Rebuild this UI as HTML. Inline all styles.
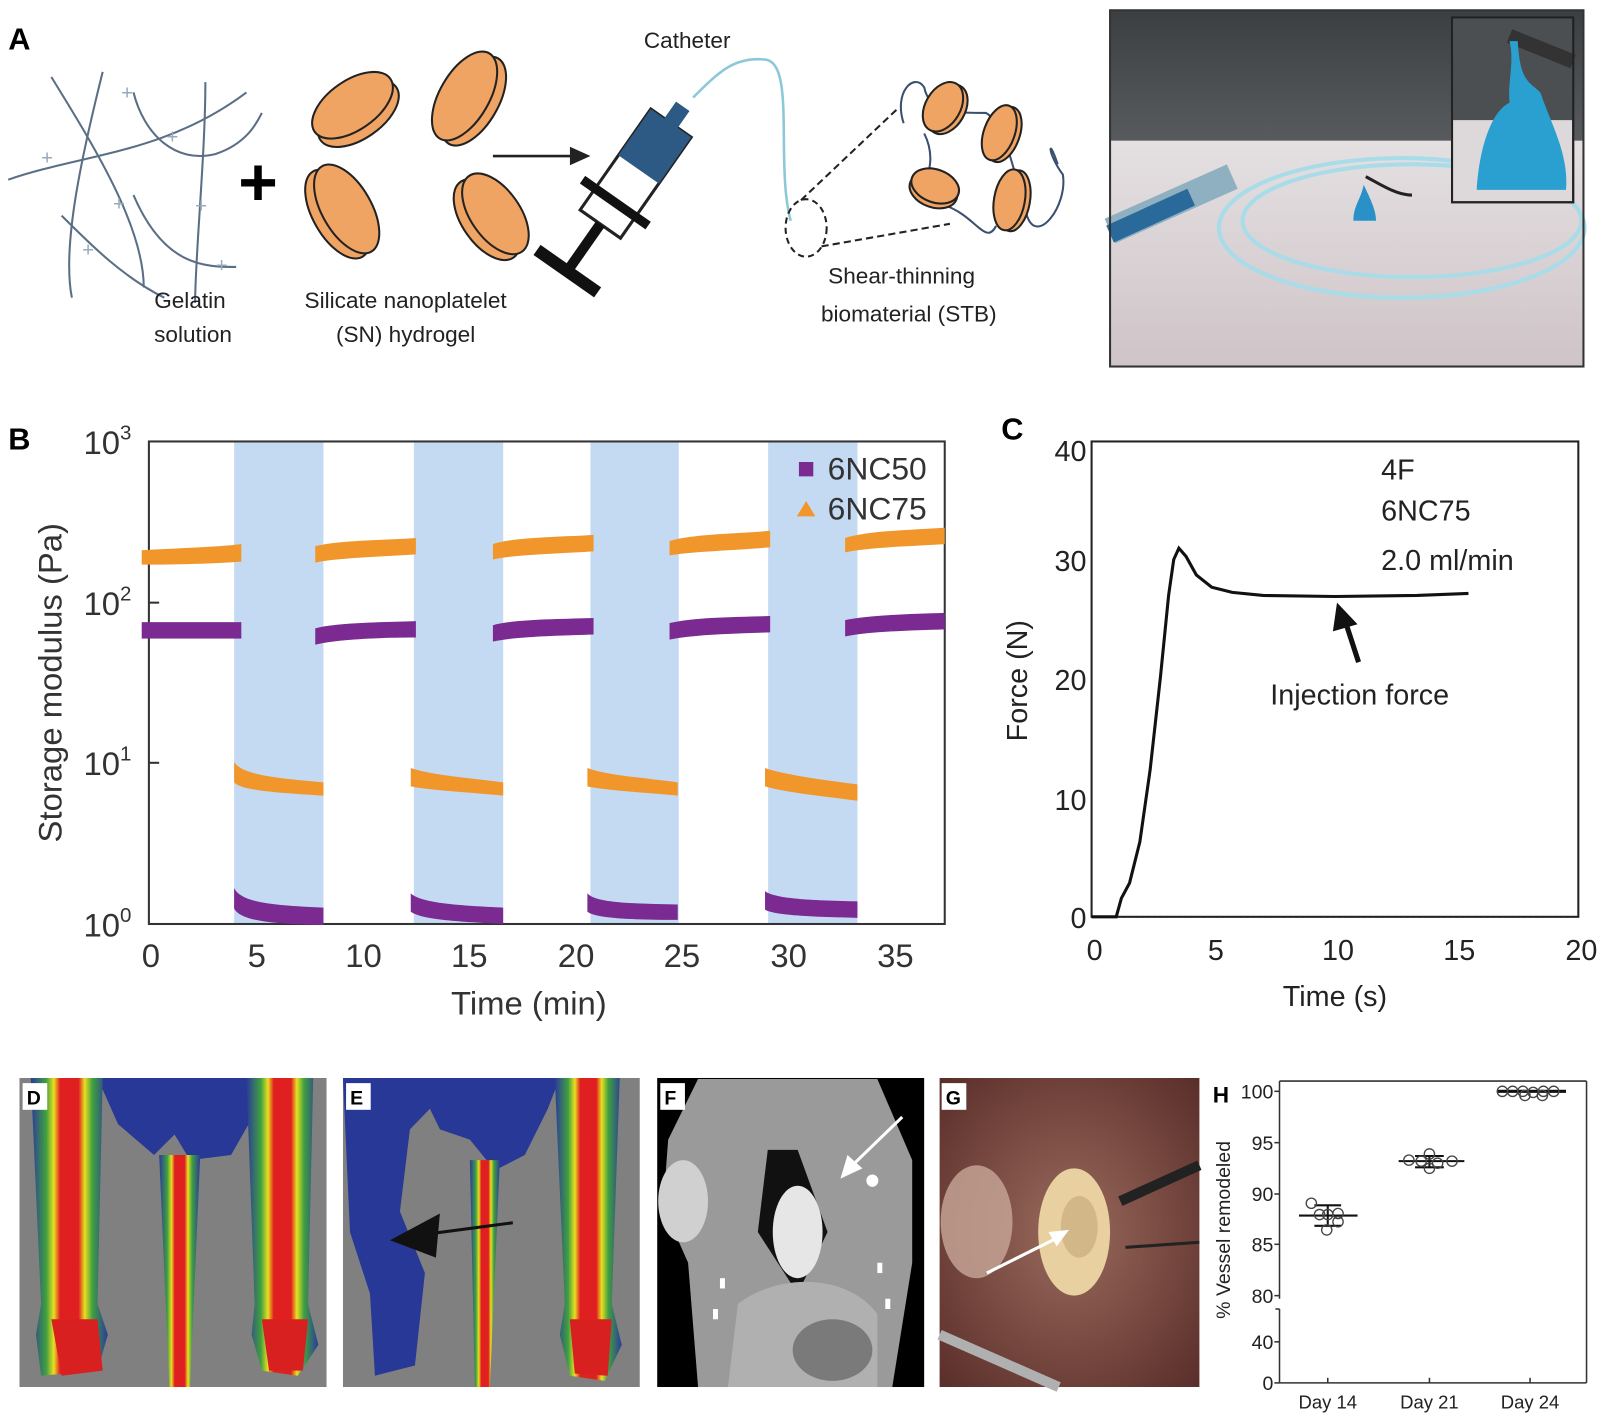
<!DOCTYPE html>
<html><head><meta charset="utf-8"><style>
html,body{margin:0;padding:0;background:#fff}
svg{display:block;font-family:"Liberation Sans",sans-serif}
</style></head><body>
<svg width="1604" height="1425" viewBox="0 0 1562 1388" preserveAspectRatio="none" xmlns="http://www.w3.org/2000/svg">
<defs>
<linearGradient id="wall" x1="0" y1="0" x2="0" y2="1">
<stop offset="0" stop-color="#3c3f41"/><stop offset="1" stop-color="#5a5d5f"/></linearGradient>
<linearGradient id="floor" x1="0" y1="0" x2="0" y2="1">
<stop offset="0" stop-color="#e4e0e2"/><stop offset="1" stop-color="#cfc4c7"/></linearGradient>
<linearGradient id="limb" x1="0" y1="0" x2="1" y2="0">
<stop offset="0" stop-color="#2a3a9a"/><stop offset="0.2" stop-color="#40a040"/><stop offset="0.3" stop-color="#e8e020"/><stop offset="0.38" stop-color="#e02020"/><stop offset="0.62" stop-color="#e02020"/><stop offset="0.7" stop-color="#e8e020"/><stop offset="0.8" stop-color="#40a040"/><stop offset="1" stop-color="#2a3a9a"/></linearGradient>
<radialGradient id="gG" cx="0.5" cy="0.5" r="0.7"><stop offset="0" stop-color="#9a6a5c"/><stop offset="1" stop-color="#5a2e2a"/></radialGradient>
</defs>

<!-- Panel A -->
<text x="8" y="48" font-size="30" font-weight="bold">A</text>
<g fill="none" stroke="#5a6e85" stroke-width="2">
<path d="M50 75 C90 140 140 220 140 280"/>
<path d="M100 70 C80 150 60 240 70 290"/>
<path d="M8 175 C80 150 160 150 240 90"/>
<path d="M130 90 C140 130 170 160 210 150 C240 140 250 120 255 110"/>
<path d="M200 80 C200 150 190 250 190 295"/>
<path d="M130 190 C160 260 200 260 230 260"/>
<path d="M60 210 C90 240 120 270 160 290"/>
</g>
<g font-size="20" fill="#9ab"><text x="40" y="160">+</text><text x="118" y="97">+</text><text x="162" y="140">+</text><text x="110" y="205">+</text><text x="80" y="250">+</text><text x="190" y="207">+</text><text x="210" y="265">+</text></g>
<text x="232" y="200" font-size="66" font-weight="bold">+</text>
<g fill="#f0a464" stroke="#222" stroke-width="2">
<g transform="rotate(-35 345 105)"><ellipse cx="345" cy="112" rx="45" ry="24"/><ellipse cx="345" cy="102" rx="45" ry="24"/></g>
<g transform="rotate(-60 455 95)"><ellipse cx="455" cy="102" rx="48" ry="24"/><ellipse cx="455" cy="92" rx="48" ry="24"/></g>
<g transform="rotate(60 335 205)"><ellipse cx="335" cy="212" rx="48" ry="24"/><ellipse cx="335" cy="202" rx="48" ry="24"/></g>
<g transform="rotate(55 480 210)"><ellipse cx="480" cy="217" rx="45" ry="24"/><ellipse cx="480" cy="207" rx="45" ry="24"/></g>
</g>
<line x1="480" y1="152" x2="558" y2="152" stroke="#222" stroke-width="2.5"/><polygon points="575,152 555,143 555,161" fill="#222"/>
<g transform="rotate(35 610 175)">
<rect x="590" y="105" width="48" height="120" fill="#fff" stroke="#222" stroke-width="3"/>
<rect x="590" y="105" width="48" height="55" fill="#2d5a85"/>
<rect x="606" y="85" width="16" height="22" fill="#2d5a85"/>
<rect x="609" y="225" width="10" height="55" fill="#111"/>
<rect x="578" y="275" width="72" height="12" fill="#111"/>
<rect x="575" y="195" width="78" height="9" fill="#111"/>
</g>
<path d="M675 95 C700 70 715 55 745 58 C775 60 755 160 770 215" fill="none" stroke="#8cc8d8" stroke-width="2.5"/>
<ellipse cx="785" cy="222" rx="20" ry="28" fill="none" stroke="#222" stroke-width="2" stroke-dasharray="6,4"/>
<line x1="780" y1="195" x2="875" y2="105" stroke="#222" stroke-width="2" stroke-dasharray="7,4"/>
<line x1="800" y1="240" x2="925" y2="218" stroke="#222" stroke-width="2" stroke-dasharray="7,4"/>
<text x="627" y="47" font-size="22" fill="#222">Catheter</text>
<g fill="none" stroke="#3a5070" stroke-width="2"><path d="M880 120 C870 90 890 70 900 85 C905 110 930 110 960 110 C980 120 990 180 1000 210 C1010 240 1040 200 1035 170 C1020 150 1020 130 1030 160"/><path d="M900 130 C920 170 880 190 920 200 C950 210 960 240 970 220"/></g>
<g fill="#f0a464" stroke="#222" stroke-width="2">
<g transform="rotate(-60 920 105)"><ellipse cx="920" cy="108" rx="26" ry="17"/><ellipse cx="920" cy="103" rx="26" ry="17"/></g>
<g transform="rotate(-70 975 130)"><ellipse cx="975" cy="133" rx="28" ry="15"/><ellipse cx="975" cy="128" rx="28" ry="15"/></g>
<g transform="rotate(20 910 183)"><ellipse cx="910" cy="186" rx="24" ry="16"/><ellipse cx="910" cy="181" rx="24" ry="16"/></g>
<g transform="rotate(-80 985 195)"><ellipse cx="985" cy="198" rx="30" ry="15"/><ellipse cx="985" cy="193" rx="30" ry="15"/></g>
</g>
<g font-size="22" fill="#222" text-anchor="middle">
<text x="185" y="300">Gelatin</text><text x="188" y="333">solution</text>
<text x="395" y="300">Silicate nanoplatelet</text><text x="395" y="333">(SN) hydrogel</text>
<text x="878" y="276">Shear-thinning</text><text x="885" y="313">biomaterial (STB)</text>
</g>
<!-- photo -->
<rect x="1081" y="10" width="461" height="137" fill="url(#wall)"/>
<rect x="1081" y="137" width="461" height="220" fill="url(#floor)"/>
<ellipse cx="1365" cy="222" rx="178" ry="68" fill="none" stroke="#a8dce8" stroke-width="4"/>
<ellipse cx="1375" cy="215" rx="165" ry="55" fill="none" stroke="#a8dce8" stroke-width="4"/>
<line x1="1081" y1="225" x2="1200" y2="172" stroke="#8fb0c0" stroke-width="26"/>
<line x1="1081" y1="228" x2="1160" y2="192" stroke="#2a6a9a" stroke-width="18"/>
<path d="M1330 172 C1345 180 1360 190 1375 190" fill="none" stroke="#222" stroke-width="3"/>
<path d="M1318 215 C1318 200 1325 195 1328 180 C1335 195 1340 205 1340 215 Z" fill="#2a90c8"/>
<rect x="1081" y="10" width="461" height="347" fill="none" stroke="#333" stroke-width="2"/>
<rect x="1414" y="17" width="118" height="180" fill="#ddd9db" stroke="#222" stroke-width="2"/>
<rect x="1414" y="17" width="118" height="100" fill="#4c4f51"/>
<line x1="1470" y1="35" x2="1532" y2="60" stroke="#333" stroke-width="14"/>
<path d="M1470 40 C1475 60 1468 80 1470 100 C1450 110 1440 150 1438 185 L1525 185 C1528 150 1510 120 1500 90 C1490 80 1480 80 1478 40 Z" fill="#2aa0d0"/>
<rect x="1414" y="17" width="118" height="180" fill="none" stroke="#222" stroke-width="2"/>

<!-- Panel B -->
<text x="8" y="438" font-size="30" font-weight="bold">B</text>
<g fill="#c4daf2">
<rect x="228" y="431" width="87" height="469"/><rect x="403" y="431" width="87" height="469"/>
<rect x="575" y="431" width="86" height="469"/><rect x="748" y="431" width="87" height="469"/>
</g>
<rect x="145" y="430" width="775" height="470" fill="none" stroke="#333" stroke-width="2"/>
<g stroke="#333" stroke-width="2">
<line x1="145" y1="587" x2="155" y2="587"/><line x1="145" y1="743" x2="155" y2="743"/>
</g>
<g fill="#f0962a">
<path d="M138,536 C170,534 210,533 235,530 L235,547 C210,549 170,550 138,550 Z"/>
<path d="M307,532 C330,526 380,526 405,524 L405,540 C380,542 330,543 307,548 Z"/>
<path d="M480,530 C500,523 550,523 578,521 L578,537 C550,539 500,540 480,545 Z"/>
<path d="M652,527 C675,520 720,520 750,517 L750,533 C720,536 675,537 652,541 Z"/>
<path d="M823,524 C845,517 890,516 920,514 L920,530 C890,532 845,533 823,538 Z"/>
<path d="M228,742 C235,755 270,758 315,762 L315,775 C270,772 235,770 228,762 Z"/>
<path d="M400,748 C420,755 460,758 490,762 L490,775 C460,772 420,770 400,766 Z"/>
<path d="M572,748 C590,755 630,758 660,762 L660,775 C630,772 590,770 572,766 Z"/>
<path d="M745,748 C765,755 805,760 835,764 L835,780 C805,776 765,772 745,766 Z"/>
</g>
<g fill="#7a2a90">
<rect x="138" y="606" width="97" height="16"/>
<path d="M307,612 C330,606 380,606 405,605 L405,621 C380,621 330,622 307,628 Z"/>
<path d="M480,609 C500,603 550,603 578,602 L578,618 C550,619 500,620 480,625 Z"/>
<path d="M652,607 C675,601 720,601 750,600 L750,616 C720,617 675,618 652,623 Z"/>
<path d="M823,604 C845,599 890,598 920,597 L920,613 C890,614 845,615 823,620 Z"/>
<path d="M228,865 C235,880 270,882 315,884 L315,901 C270,900 235,898 228,885 Z"/>
<path d="M400,870 C410,880 450,882 490,884 L490,900 C450,898 410,896 400,888 Z"/>
<path d="M572,870 C580,880 620,880 660,881 L660,896 C620,896 580,895 572,888 Z"/>
<path d="M745,868 C755,876 795,877 835,878 L835,894 C795,893 755,892 745,886 Z"/>
</g>
<rect x="778" y="450" width="14" height="14" fill="#7a2a90"/>
<polygon points="776,503 794,503 785,488" fill="#f0962a"/>
<g font-size="31" fill="#333"><text x="806" y="467">6NC50</text><text x="806" y="506">6NC75</text></g>
<g font-size="32" fill="#333" text-anchor="end">
<text x="128" y="442">10<tspan font-size="20" dy="-14">3</tspan></text>
<text x="128" y="599">10<tspan font-size="20" dy="-14">2</tspan></text>
<text x="128" y="755">10<tspan font-size="20" dy="-14">1</tspan></text>
<text x="128" y="912">10<tspan font-size="20" dy="-14">0</tspan></text>
</g>
<g font-size="32" fill="#333" text-anchor="middle">
<text x="147" y="942">0</text><text x="250" y="942">5</text><text x="354" y="942">10</text><text x="457" y="942">15</text><text x="561" y="942">20</text><text x="664" y="942">25</text><text x="768" y="942">30</text><text x="872" y="942">35</text>
<text x="515" y="988">Time (min)</text>
</g>
<text transform="translate(60 665) rotate(-90)" font-size="32" fill="#333" text-anchor="middle">Storage modulus (Pa)</text>

<!-- Panel C -->
<text x="975" y="428" font-size="30" font-weight="bold">C</text>
<rect x="1063" y="430" width="474" height="463" fill="none" stroke="#222" stroke-width="2"/>
<line x1="1063" y1="893" x2="1537" y2="893" stroke="#222" stroke-width="1.5" stroke-dasharray="3,3"/>
<path d="M1063 893 L1087 893 L1092 875 L1100 860 L1110 820 L1120 750 L1130 660 L1138 580 L1143 545 L1148 534 L1155 542 L1165 560 L1180 572 L1200 577 L1230 580 L1300 581 L1380 580 L1430 578" fill="none" stroke="#111" stroke-width="3"/>
<g font-size="28" fill="#222" text-anchor="end">
<text x="1058" y="449">40</text><text x="1058" y="556">30</text><text x="1058" y="672">20</text><text x="1058" y="789">10</text><text x="1058" y="904">0</text></g>
<g font-size="28" fill="#222" text-anchor="middle">
<text x="1066" y="935">0</text><text x="1184" y="935">5</text><text x="1303" y="935">10</text><text x="1421" y="935">15</text><text x="1540" y="935">20</text>
<text x="1300" y="980">Time (s)</text></g>
<text transform="translate(1000 663) rotate(-90)" font-size="28" fill="#222" text-anchor="middle">Force (N)</text>
<g font-size="28" fill="#222"><text x="1345" y="467">4F</text><text x="1345" y="507">6NC75</text><text x="1345" y="555">2.0 ml/min</text>
<text x="1237" y="686">Injection force</text></g>
<line x1="1323" y1="645" x2="1310" y2="605" stroke="#111" stroke-width="5"/><polygon points="1302,587 1298,615 1322,608" fill="#111"/>

<!-- D -->
<rect x="19" y="1050" width="299" height="301" fill="#808080"/>
<path d="M95 1050 L250 1050 L245 1090 L225 1125 L185 1130 L170 1105 L150 1125 L115 1095 Z" fill="#283896"/>
<path d="M30 1050 L100 1050 L95 1270 L105 1300 L95 1335 L40 1340 L35 1300 L40 1270 Z" fill="url(#limb)"/>
<path d="M155 1125 L195 1125 L185 1351 L165 1351 Z" fill="url(#limb)"/>
<path d="M240 1050 L305 1050 L300 1270 L310 1310 L290 1340 L255 1335 L245 1300 L248 1270 Z" fill="url(#limb)"/>
<path d="M50 1285 L95 1285 L100 1335 L60 1340 Z" fill="#d82020"/><path d="M255 1285 L300 1285 L295 1335 L262 1335 Z" fill="#d82020"/>
<rect x="22" y="1055" width="24" height="26" fill="#fff"/><text x="26" y="1076" font-size="19" font-weight="bold">D</text>
<!-- E -->
<g transform="translate(334 0) scale(0.973 1) translate(-343 0)">
<rect x="343" y="1050" width="297" height="301" fill="#808080"/>
<path d="M343 1050 L560 1050 L548 1080 L525 1125 L495 1140 L470 1110 L440 1100 L430 1080 L410 1100 L400 1180 L425 1240 L415 1330 L375 1340 L370 1260 L350 1200 Z" fill="#283896"/>
<path d="M470 1130 L500 1130 L490 1351 L475 1351 Z" fill="url(#limb)"/>
<path d="M555 1050 L620 1050 L612 1270 L622 1310 L605 1345 L570 1340 L560 1300 L565 1270 Z" fill="url(#limb)"/>
<path d="M570 1285 L612 1285 L608 1340 L575 1338 Z" fill="#d82020"/>
<line x1="513" y1="1191" x2="420" y2="1203" stroke="#111" stroke-width="3"/><polygon points="390,1208 440,1182 436,1225" fill="#111"/>
</g>
<rect x="337" y="1055" width="24" height="26" fill="#fff"/><text x="341" y="1076" font-size="19" font-weight="bold">E</text>
<!-- F -->
<g transform="translate(640 0) scale(0.97 1) translate(-659 0)">
<rect x="659" y="1050" width="268" height="301" fill="#000"/>
<path d="M700 1051 L880 1051 L915 1130 L915 1230 L895 1351 L700 1351 L690 1230 L665 1175 L670 1110 Z" fill="#9a9a9a"/>
<ellipse cx="685" cy="1170" rx="25" ry="40" fill="#d0d0d0"/>
<path d="M770 1120 L800 1120 L830 1200 L800 1260 L760 1200 Z" fill="#111"/>
<ellipse cx="800" cy="1200" rx="25" ry="45" fill="#e6e6e6"/>
<path d="M740 1270 C780 1240 850 1240 880 1280 L880 1351 L730 1351 Z" fill="#b0b0b0"/>
<ellipse cx="835" cy="1315" rx="40" ry="30" fill="#7a7a7a"/>
<g fill="#fff"><circle cx="875" cy="1150" r="6"/><rect x="722" y="1245" width="5" height="10"/><rect x="715" y="1275" width="5" height="10"/><rect x="880" y="1230" width="5" height="10"/><rect x="888" y="1265" width="5" height="10"/></g>
<line x1="905" y1="1088" x2="855" y2="1135" stroke="#fff" stroke-width="3"/><polygon points="843,1148 850,1125 865,1138" fill="#fff"/>
</g>
<rect x="643" y="1055" width="24" height="26" fill="#fff"/><text x="647" y="1076" font-size="19" font-weight="bold">F</text>
<!-- G -->
<g transform="translate(-29 0)">
<rect x="944" y="1050" width="253" height="301" fill="url(#gG)"/>
<ellipse cx="980" cy="1190" rx="35" ry="55" fill="#c8a898" opacity="0.8"/>
<ellipse cx="1075" cy="1200" rx="35" ry="62" fill="#e8d0a0"/>
<ellipse cx="1080" cy="1195" rx="18" ry="30" fill="#d2b888"/>
<line x1="1120" y1="1170" x2="1197" y2="1135" stroke="#222" stroke-width="10"/>
<line x1="1125" y1="1215" x2="1197" y2="1210" stroke="#222" stroke-width="3"/>
<line x1="944" y1="1300" x2="1060" y2="1351" stroke="#b0b0b0" stroke-width="10"/>
<line x1="990" y1="1240" x2="1060" y2="1205" stroke="#fff" stroke-width="3"/><polygon points="1070,1198 1050,1200 1058,1214" fill="#fff"/>
<rect x="946" y="1055" width="24" height="26" fill="#fff"/><text x="950" y="1076" font-size="19" font-weight="bold">G</text>
</g>
<!-- H -->
<text x="1181" y="1074" font-size="22" font-weight="bold">H</text>
<g stroke="#333" stroke-width="1.5" fill="none">
<line x1="1246" y1="1053" x2="1246" y2="1265"/><line x1="1246" y1="1275" x2="1246" y2="1347"/>
<line x1="1242" y1="1275" x2="1246" y2="1275"/>
<line x1="1246" y1="1347" x2="1545" y2="1347"/><line x1="1545" y1="1053" x2="1545" y2="1347"/><line x1="1246" y1="1053" x2="1545" y2="1053"/>
<line x1="1241" y1="1063" x2="1246" y2="1063"/><line x1="1241" y1="1113" x2="1246" y2="1113"/><line x1="1241" y1="1163" x2="1246" y2="1163"/><line x1="1241" y1="1212" x2="1246" y2="1212"/><line x1="1241" y1="1262" x2="1246" y2="1262"/><line x1="1241" y1="1307" x2="1246" y2="1307"/><line x1="1241" y1="1347" x2="1246" y2="1347"/>
<line x1="1293" y1="1347" x2="1293" y2="1342"/><line x1="1392" y1="1347" x2="1392" y2="1342"/><line x1="1490" y1="1347" x2="1490" y2="1342"/>
</g>
<g stroke="#111" stroke-width="2" fill="none">
<line x1="1265" y1="1184" x2="1322" y2="1184"/><line x1="1293" y1="1174" x2="1293" y2="1194"/><line x1="1280" y1="1174" x2="1306" y2="1174"/><line x1="1280" y1="1194" x2="1306" y2="1194"/>
<line x1="1362" y1="1131" x2="1426" y2="1131"/><line x1="1392" y1="1126" x2="1392" y2="1137"/><line x1="1378" y1="1126" x2="1406" y2="1126"/><line x1="1378" y1="1137" x2="1406" y2="1137"/>
<line x1="1458" y1="1063" x2="1525" y2="1063" stroke-width="3"/>
</g>
<g stroke="#444" stroke-width="1.3" fill="none">
<circle cx="1277" cy="1172" r="5"/><circle cx="1285" cy="1183" r="5"/><circle cx="1293" cy="1183" r="5"/><circle cx="1303" cy="1182" r="5"/><circle cx="1303" cy="1190" r="5"/><circle cx="1292" cy="1198" r="5"/>
<circle cx="1372" cy="1130" r="5"/><circle cx="1384" cy="1131" r="5"/><circle cx="1392" cy="1124" r="5"/><circle cx="1400" cy="1133" r="5"/><circle cx="1392" cy="1138" r="5"/><circle cx="1414" cy="1131" r="5"/>
<circle cx="1463" cy="1063" r="5"/><circle cx="1473" cy="1063" r="5"/><circle cx="1483" cy="1063" r="5"/><circle cx="1493" cy="1064" r="5"/><circle cx="1503" cy="1063" r="5"/><circle cx="1513" cy="1063" r="5"/><circle cx="1485" cy="1067" r="5"/><circle cx="1502" cy="1067" r="5"/>
</g>
<g font-size="19" fill="#222" text-anchor="end">
<text x="1240" y="1070">100</text><text x="1240" y="1120">95</text><text x="1240" y="1170">90</text><text x="1240" y="1219">85</text><text x="1240" y="1269">80</text><text x="1240" y="1314">40</text><text x="1240" y="1354">0</text></g>
<g font-size="18" fill="#222" text-anchor="middle"><text x="1293" y="1372">Day 14</text><text x="1392" y="1372">Day 21</text><text x="1490" y="1372">Day 24</text></g>
<text transform="translate(1198 1198) rotate(-90)" font-size="19" fill="#222" text-anchor="middle">% Vessel remodeled</text>
</svg>
</body></html>
